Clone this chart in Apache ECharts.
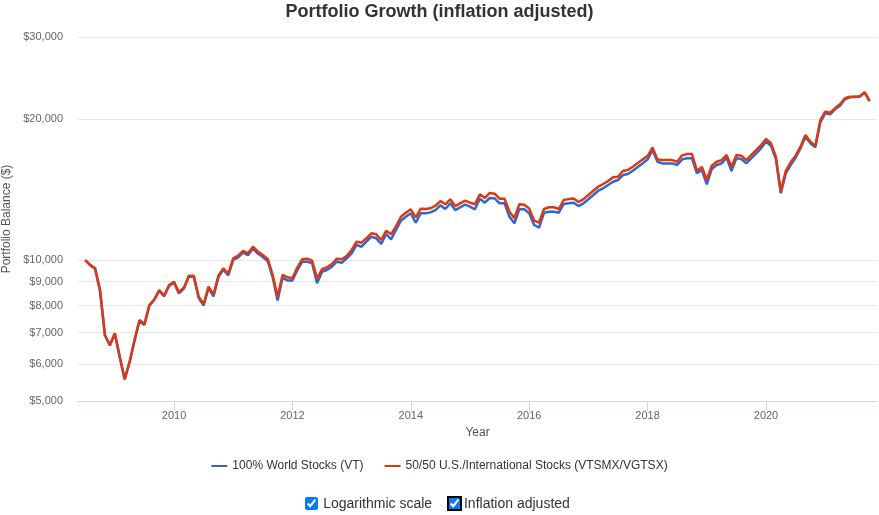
<!DOCTYPE html>
<html>
<head>
<meta charset="utf-8">
<title>Portfolio Growth</title>
<script src="https://cdn.jsdelivr.net/npm/echarts@6/dist/echarts.min.js"></script>
<style>
  html, body { margin: 0; padding: 0; background: #fff; }
  #chart { width: 879px; height: 515px; }
  #opts {
    position: absolute; left: -2px; top: 494px; width: 879px; text-align: center;
    font: 14px 'Liberation Sans', Arial, sans-serif; color: #333;
  }
  #opts label { margin: 0 6px; vertical-align: middle; }
  #opts input { margin: 0 5px 0 0; vertical-align: -2px; accent-color: #0b78f5; }
  #opts input.focus { outline: 2px solid #000; outline-offset: -1px; border-radius: 2px; margin-right: 3px; }
</style>
</head>
<body>
<div id="chart"></div>
<div id="opts">
  <label><input type="checkbox" checked>Logarithmic scale</label>
  <label><input type="checkbox" class="focus" checked>Inflation adjusted</label>
</div>
<script>
// month-end balances, June 2008 .. Sept 2021
const worldStocks = [
  10000, 9760, 9590, 8600, 6900, 6570, 6960, 6200, 5560, 6050, 6730, 7420,
  7270, 7990, 8220, 8600, 8370, 8810, 8950, 8490, 8690, 9220, 9220, 8300,
  8000, 8720, 8370, 9200, 9540, 9280, 10010, 10140, 10380, 10250, 10590, 10330,
  10160, 9950, 9190, 8200, 9170, 9050, 9050, 9527, 9927, 9927, 9846, 8924,
  9448, 9527, 9683, 9927, 9876, 10092, 10345, 10780, 10684, 10953, 11226, 11137,
  10831, 11375, 11080, 11600, 12146, 12385, 12596, 12026, 12596, 12596, 12653, 12800,
  13098, 12866, 13232, 12800, 12973, 13141, 13011, 12846, 13533, 13271, 13580, 13560,
  13232, 13232, 12385, 11993, 12846, 12846, 12600, 11891, 11734, 12631, 12693, 12693,
  12631, 13186, 13232, 13271, 13054, 13232, 13494, 13780, 14078, 14247, 14476, 14714,
  14838, 15205, 15280, 15532, 15815, 16103, 16425, 17200, 16236, 16103, 16103, 16103,
  15976, 16425, 16509, 16509, 15335, 15586, 14530, 15665, 15976, 16103, 16562, 15510,
  16509, 16452, 16103, 16509, 16924, 17341, 17915, 17570, 16452, 13900, 15335, 15976,
  16562, 17341, 18367, 17780, 17426, 19700, 20607, 20500, 21020, 21393, 22077, 22300,
  22330, 22350, 22851, 21890
];

const usIntl5050 = [
  10000, 9766, 9606, 8635, 6919, 6587, 6976, 6220, 5570, 6066, 6750, 7449,
  7293, 8021, 8249, 8635, 8398, 8850, 8994, 8539, 8737, 9267, 9267, 8356,
  8061, 8778, 8430, 9267, 9606, 9354, 10092, 10223, 10465, 10345, 10684, 10430,
  10260, 10060, 9300, 8350, 9300, 9190, 9150, 9656, 10045, 10075, 9973, 9145,
  9562, 9656, 9813, 10075, 10045, 10209, 10516, 10953, 10900, 11137, 11413, 11358,
  11044, 11561, 11358, 11830, 12385, 12631, 12846, 12348, 12886, 12866, 12910, 13074,
  13378, 13168, 13494, 13054, 13232, 13403, 13271, 13168, 13829, 13580, 13920, 13872,
  13533, 13533, 12693, 12293, 13168, 13130, 12900, 12146, 12026, 12866, 12973, 12973,
  12866, 13449, 13507, 13551, 13316, 13507, 13780, 14078, 14357, 14549, 14767, 15038,
  15082, 15510, 15586, 15839, 16128, 16425, 16700, 17426, 16425, 16367, 16367, 16367,
  16236, 16755, 16865, 16865, 15532, 15815, 14838, 15919, 16236, 16367, 16783, 15839,
  16783, 16728, 16367, 16783, 17200, 17624, 18158, 17780, 16645, 14010, 15510, 16187,
  16728, 17487, 18520, 17915, 17546, 19900, 20770, 20660, 21120, 21540, 22186, 22360,
  22360, 22400, 22851, 21890
];

const yearTicks = [2010, 2012, 2014, 2016, 2018, 2020];
const balanceTicks = [5000, 6000, 7000, 8000, 9000, 10000, 20000, 30000];

// month ends as decimal years (June 2008 -> 2008.5)
const dates = worldStocks.map((_, i) => 2008.5 + i / 12);

const chart = echarts.init(document.getElementById('chart'));

const money = v => '$' + Math.round(v).toLocaleString('en-US');

chart.setOption({
  animation: false,
  textStyle: { fontFamily: "'Liberation Sans', Arial, sans-serif" },
  title: {
    text: 'Portfolio Growth (inflation adjusted)',
    left: 'center',
    top: 3,
    padding: 0,
    textStyle: { fontSize: 18, fontWeight: 'bold', color: '#333' },
  },
  legend: {
    top: 455,
    left: 'center',
    icon: 'rect',
    itemWidth: 16,
    itemHeight: 2,
    itemGap: 21,
    textStyle: { fontSize: 12, color: '#333' },
    data: ['100% World Stocks (VT)', '50/50 U.S./International Stocks (VTSMX/VGTSX)'],
  },
  grid: { left: 78, right: 2, top: 37, bottom: 114, outerBoundsMode: 'none', containLabel: false },
  xAxis: {
    type: 'value',
    min: 2008.378,
    max: 2021.875,
    name: 'Year',
    nameLocation: 'middle',
    nameGap: 26,
    nameTextStyle: { fontSize: 12, color: '#555' },
    axisLine: { lineStyle: { color: '#ccd6eb' } },
    axisTick: {
      show: true,
      length: 10,
      lineStyle: { color: '#ccd6eb' },
      customValues: yearTicks,
    },
    axisLabel: {
      fontSize: 11,
      color: '#666',
      margin: 9,
      customValues: yearTicks,
      formatter: v => String(v),
    },
    splitLine: { show: false },
  },
  yAxis: {
    type: 'log',
    min: 5000,
    max: 30000,
    name: 'Portfolio Balance ($)',
    nameLocation: 'middle',
    nameGap: 57,
    nameTextStyle: { fontSize: 12, color: '#555' },
    axisLine: { show: false },
    axisTick: { show: false, customValues: balanceTicks },
    axisLabel: {
      fontSize: 11,
      color: '#666',
      margin: 15,
      customValues: balanceTicks,
      formatter: money,
    },
    splitLine: { show: true, lineStyle: { color: '#e6e6e6' } },
  },
  series: [
    {
      name: '100% World Stocks (VT)',
      type: 'line',
      showSymbol: false,
      lineStyle: { width: 2.5, color: '#3366cc' },
      itemStyle: { color: '#3366cc' },
      data: dates.map((d, i) => [d, worldStocks[i]]),
    },
    {
      name: '50/50 U.S./International Stocks (VTSMX/VGTSX)',
      type: 'line',
      showSymbol: false,
      lineStyle: { width: 2.5, color: '#dc3912' },
      itemStyle: { color: '#dc3912' },
      data: dates.map((d, i) => [d, usIntl5050[i]]),
    },
  ],
});
</script>
</body>
</html>
